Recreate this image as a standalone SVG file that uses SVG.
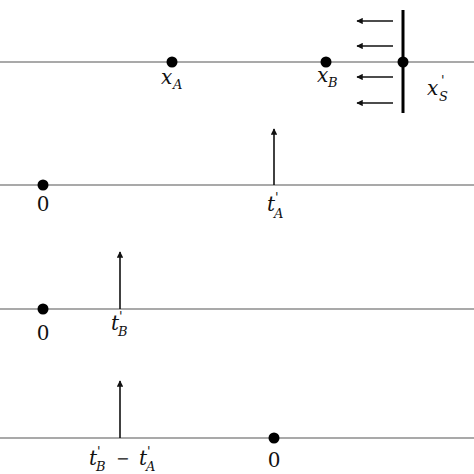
<svg xmlns="http://www.w3.org/2000/svg" width="474" height="474" viewBox="0 0 474 474">
<style>
.axis{stroke:#555;stroke-width:1.2;fill:none}
.stem{stroke:#111;stroke-width:1.6;fill:none}
.dot{fill:#000}
.t{font-family:"DejaVu Serif","Liberation Serif",serif;fill:#111}
.lab{font-size:20px;font-style:italic}
.num{font-size:20px}
.sub{font-size:13px;font-style:italic}
</style>
<defs>
<marker id="ah" viewBox="0 0 10 10" refX="9" refY="5" markerWidth="4" markerHeight="4" orient="auto">
<path d="M0,0 L10,5 L0,10 z" fill="#111"/>
</marker>
</defs>
<rect width="474" height="474" fill="#fff"/>
<g id="axes">
<line class="axis" x1="0" y1="62" x2="474" y2="62"/>
<line class="axis" x1="0" y1="185" x2="474" y2="185"/>
<line class="axis" x1="0" y1="309" x2="474" y2="309"/>
<line class="axis" x1="0" y1="438" x2="474" y2="438"/>
</g>
<g id="connectors">
<line class="stem" x1="393" y1="21" x2="357" y2="21" stroke-width="2.4" marker-end="url(#ah)"/>
<line class="stem" x1="393" y1="46" x2="357" y2="46" stroke-width="2.4" marker-end="url(#ah)"/>
<line class="stem" x1="393" y1="77" x2="357" y2="77" stroke-width="2.4" marker-end="url(#ah)"/>
<line class="stem" x1="393" y1="103" x2="357" y2="103" stroke-width="2.4" marker-end="url(#ah)"/>
<line class="stem" x1="274" y1="185" x2="274" y2="129" marker-end="url(#ah)"/>
<line class="stem" x1="120" y1="309" x2="120" y2="252" marker-end="url(#ah)"/>
<line class="stem" x1="120" y1="438" x2="120" y2="381" marker-end="url(#ah)"/>
</g>
<g id="wall">
<line x1="403" y1="10" x2="403" y2="113" stroke="#000" stroke-width="3"/>
</g>
<g id="xA">
<circle class="dot" cx="172" cy="62" r="5.5"/>
<text class="t lab" x="161" y="84">x</text><text class="t sub" x="173" y="89">A</text>
</g>
<g id="xB">
<circle class="dot" cx="326" cy="62" r="5.5"/>
<text class="t lab" x="317" y="82">x</text><text class="t sub" x="328" y="87">B</text>
</g>
<g id="xS">
<circle class="dot" cx="403" cy="62" r="5.5"/>
<text class="t lab" x="427" y="95">x</text><text class="t sub" x="441" y="85">'</text><text class="t sub" x="439" y="101">S</text>
</g>
<g id="row2">
<circle class="dot" cx="43" cy="185" r="5.5"/>
<text class="t num" x="43" y="211" text-anchor="middle">0</text>
<text class="t lab" x="267" y="211">t</text><text class="t sub" x="275" y="202">'</text><text class="t sub" x="274" y="218">A</text>
</g>
<g id="row3">
<circle class="dot" cx="43" cy="309" r="5.5"/>
<text class="t num" x="43" y="340" text-anchor="middle">0</text>
<text class="t lab" x="111" y="330">t</text><text class="t sub" x="119" y="321">'</text><text class="t sub" x="118" y="336">B</text>
</g>
<g id="row4">
<circle class="dot" cx="274" cy="438" r="5.5"/>
<text class="t num" x="274" y="467" text-anchor="middle">0</text>
<text class="t lab" x="89" y="465">t</text><text class="t sub" x="97" y="456">'</text><text class="t sub" x="96" y="471">B</text>
<text class="t" font-size="16" x="116" y="464">−</text>
<text class="t lab" x="139" y="465">t</text><text class="t sub" x="147" y="456">'</text><text class="t sub" x="146" y="471">A</text>
</g>
</svg>
